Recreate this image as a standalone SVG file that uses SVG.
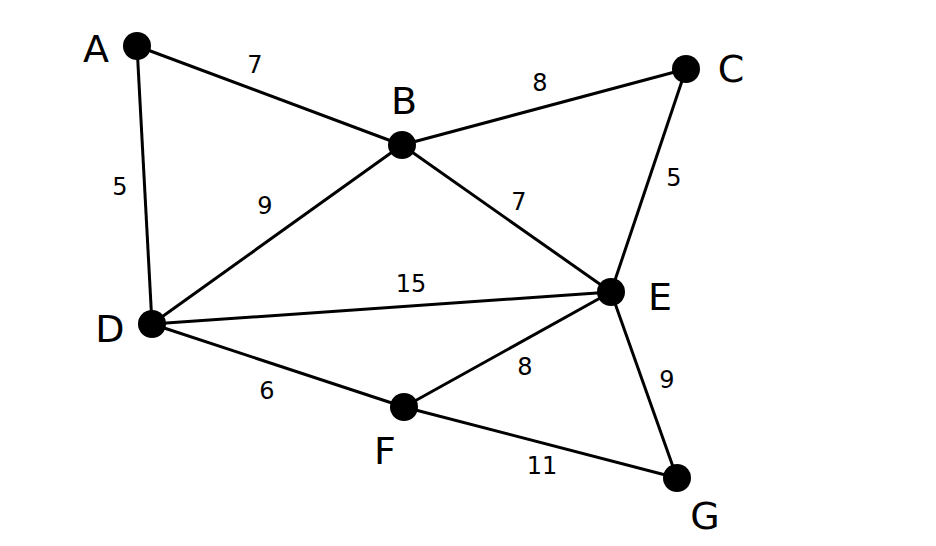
<svg xmlns="http://www.w3.org/2000/svg" width="936" height="546" viewBox="0 0 936 546">
<style>
.e{stroke:#000;stroke-width:3;fill:none}
.n{fill:#000}
.l{font-family:"DejaVu Sans",sans-serif;font-size:38px;text-anchor:middle}
.w{font-family:"DejaVu Sans",sans-serif;font-size:24px;text-anchor:middle}
</style>
<rect width="936" height="546" fill="#fff"/>
<g id="edges">
<line class="e" x1="137" y1="46" x2="402" y2="145"/>
<line class="e" x1="137" y1="46" x2="152" y2="324"/>
<line class="e" x1="402" y1="145" x2="686" y2="69"/>
<line class="e" x1="402" y1="145" x2="152" y2="324"/>
<line class="e" x1="402" y1="145" x2="611" y2="292"/>
<line class="e" x1="686" y1="69" x2="611" y2="292"/>
<line class="e" x1="152" y1="324" x2="611" y2="292"/>
<line class="e" x1="152" y1="324" x2="404" y2="407"/>
<line class="e" x1="404" y1="407" x2="611" y2="292"/>
<line class="e" x1="611" y1="292" x2="677" y2="478"/>
<line class="e" x1="404" y1="407" x2="677" y2="478"/>
<text class="w" x="255" y="73">7</text>
<text class="w" x="540" y="91">8</text>
<text class="w" x="120" y="195">5</text>
<text class="w" x="265" y="214">9</text>
<text class="w" x="519" y="210">7</text>
<text class="w" x="674" y="186">5</text>
<text class="w" x="411" y="292">15</text>
<text class="w" x="525" y="375">8</text>
<text class="w" x="667" y="388">9</text>
<text class="w" x="267" y="399">6</text>
<text class="w" x="542" y="474">11</text>
</g>
<g id="A"><circle class="n" cx="137" cy="46" r="14"/><text class="l" x="96" y="62">A</text></g>
<g id="B"><circle class="n" cx="402" cy="145" r="14"/><text class="l" x="404" y="114">B</text></g>
<g id="C"><circle class="n" cx="686" cy="69" r="14"/><text class="l" x="731" y="82">C</text></g>
<g id="D"><circle class="n" cx="152" cy="324" r="14"/><text class="l" x="110" y="342">D</text></g>
<g id="E"><circle class="n" cx="611" cy="292" r="14"/><text class="l" x="660" y="310">E</text></g>
<g id="F"><circle class="n" cx="404" cy="407" r="14"/><text class="l" x="385" y="464">F</text></g>
<g id="G"><circle class="n" cx="677" cy="478" r="14"/><text class="l" x="705" y="529">G</text></g>
</svg>
